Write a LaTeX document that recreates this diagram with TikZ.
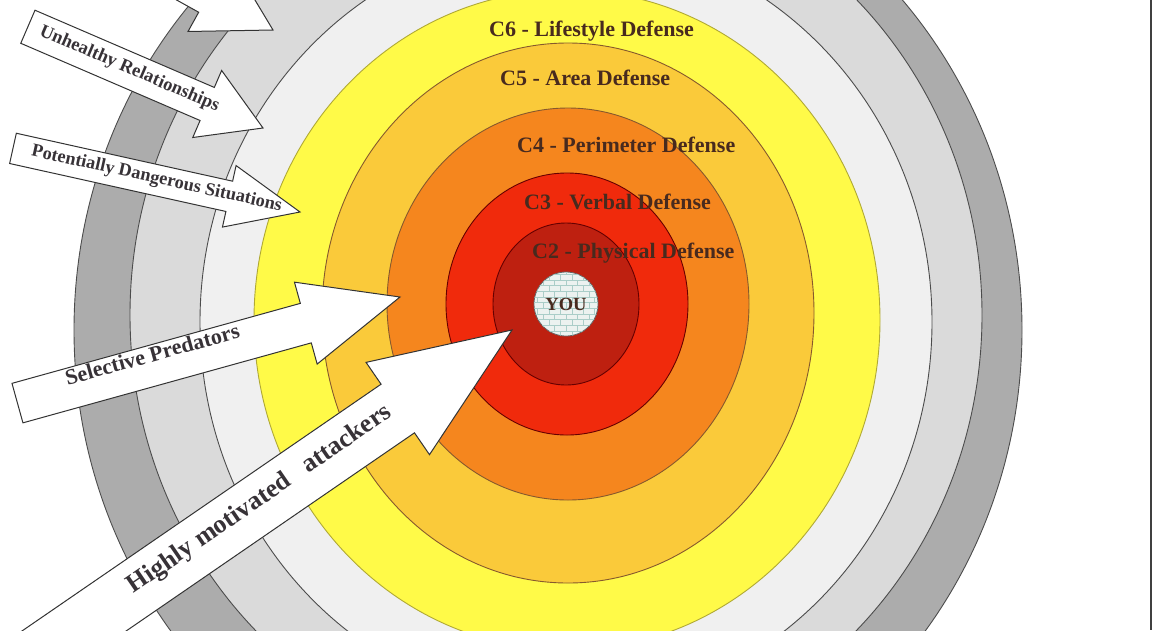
\documentclass[tikz,border=0pt]{standalone}
\usepackage{fontspec}
\setmainfont{Liberation Serif}
\usetikzlibrary{shapes.arrows,patterns,calc}

\definecolor{ringdark}{RGB}{172,172,172}
\definecolor{ringgray}{RGB}{218,218,218}
\definecolor{ringpale}{RGB}{240,240,240}
\definecolor{zoneSix}{RGB}{255,250,72}
\definecolor{zoneFive}{RGB}{250,202,58}
\definecolor{zoneFour}{RGB}{245,134,30}
\definecolor{zoneThree}{RGB}{240,42,12}
\definecolor{zoneTwo}{RGB}{190,32,16}
\definecolor{youback}{RGB}{236,242,240}
\definecolor{brickline}{RGB}{170,205,200}
\definecolor{labelbrown}{RGB}{72,42,30}
\definecolor{arrowtext}{RGB}{55,50,55}

\tikzset{
  ring/.style={draw=black!70, line width=0.9pt},
  zonelabel/.style={anchor=base west, inner sep=0pt, text=labelbrown,
    font=\fontsize{22}{24}\selectfont\bfseries},
  threat/.style={single arrow, draw=black!80, fill=white, line width=1pt,
    inner xsep=0pt, outer sep=0pt, anchor=tip},
  threatlabel/.style={inner sep=0pt, text height=0.66em, text depth=0pt,
    text=arrowtext}
}

\begin{document}
\begin{tikzpicture}[x=1pt,y=-1pt]
  \useasboundingbox (0,0) rectangle (1153,630);
  \clip (0,0) rectangle (1153,630);

  % rings, from the outside in
  \draw[ring, fill=ringdark] (548,330) ellipse [x radius=474, y radius=497];
  \draw[ring, fill=ringgray] (556,315) ellipse [x radius=426, y radius=445];
  \draw[ring, fill=ringpale] (566,322) ellipse [x radius=366, y radius=385];
  \draw[ring, draw=olive!70, fill=zoneSix] (567,320) ellipse [x radius=313, y radius=330];
  \draw[ring, draw=brown!70!black, fill=zoneFive] (568,313) ellipse [x radius=246, y radius=270];
  \draw[ring, draw=brown!70!black, fill=zoneFour] (568,304) ellipse [x radius=181, y radius=196];
  \draw[ring, draw=red!40!black, fill=zoneThree] (567,304) ellipse [x radius=121, y radius=131];
  \draw[ring, draw=red!40!black, fill=zoneTwo] (566,304) ellipse [x radius=73, y radius=81];
  \node[circle, draw=black!60, line width=0.8pt, minimum size=64pt, inner sep=0pt,
    fill=youback, postaction={pattern=bricks, pattern color=brickline},
    text=labelbrown, font=\fontsize{18.5}{20}\selectfont\bfseries] (you) at (566,304) {YOU};

  % zone labels
  \node[zonelabel] (lifestyle) at (489,36) {C6 - Lifestyle Defense};
  \node[zonelabel] (area) at (500,85) {C5 - Area Defense};
  \node[zonelabel] (perimeter) at (517,152) {C4 - Perimeter Defense};
  \node[zonelabel] (verbal) at (524,209) {C3 - Verbal Defense};
  \node[zonelabel] (physical) at (532,258) {C2 - Physical Defense};

  % threats
  \node[threat, rotate=-29, minimum height=320pt, inner ysep=20pt,
    single arrow head extend=22pt, single arrow tip angle=60] (topthreat) at (273,30) {};
  \node[threat, rotate=-23.3, minimum height=256pt, inner ysep=17.5pt,
    single arrow head extend=18.5pt, single arrow tip angle=62] (unhealthy) at (263,128) {};
  \node[threat, rotate=-12.5, minimum height=294pt, inner ysep=15pt,
    single arrow head extend=16pt, single arrow tip angle=47] (dangerous) at (300,212) {};
  \node[threat, rotate=15.5, minimum height=397pt, inner ysep=20pt,
    single arrow head extend=22pt, single arrow tip angle=47] (predators) at (400,297) {};
  \node[threat, rotate=34.5, minimum height=590pt, inner ysep=29pt,
    single arrow head extend=26.5pt, single arrow tip angle=44] (attackers) at (512,330) {};

  \node[threatlabel, rotate=-23.3, font=\fontsize{18.5}{20}\selectfont\bfseries]
    (unhealthytext) at ($(unhealthy.tail)!0.43!(unhealthy.tip)$) {Unhealthy Relationships};
  \node[threatlabel, rotate=-12.5, font=\fontsize{18.3}{20}\selectfont\bfseries]
    (dangeroustext) at ($(dangerous.tail)!0.5!(dangerous.tip)$) {Potentially Dangerous Situations};
  \node[threatlabel, rotate=15.5, font=\fontsize{22}{24}\selectfont\bfseries]
    (predatorstext) at ($(predators.tail)!0.36!(predators.tip)!7pt!90:(predators.tip)$) {Selective Predators};
  \node[threatlabel, rotate=34.5, font=\fontsize{26}{28}\selectfont\bfseries]
    (attackerstext) at ($(attackers.tail)!0.485!(attackers.tip)$) {Highly motivated\ \ \ attackers};

  % edge of the scanned page
  \draw[black!75, line width=2pt] (1151,0) -- (1151,630);
\end{tikzpicture}
\end{document}
